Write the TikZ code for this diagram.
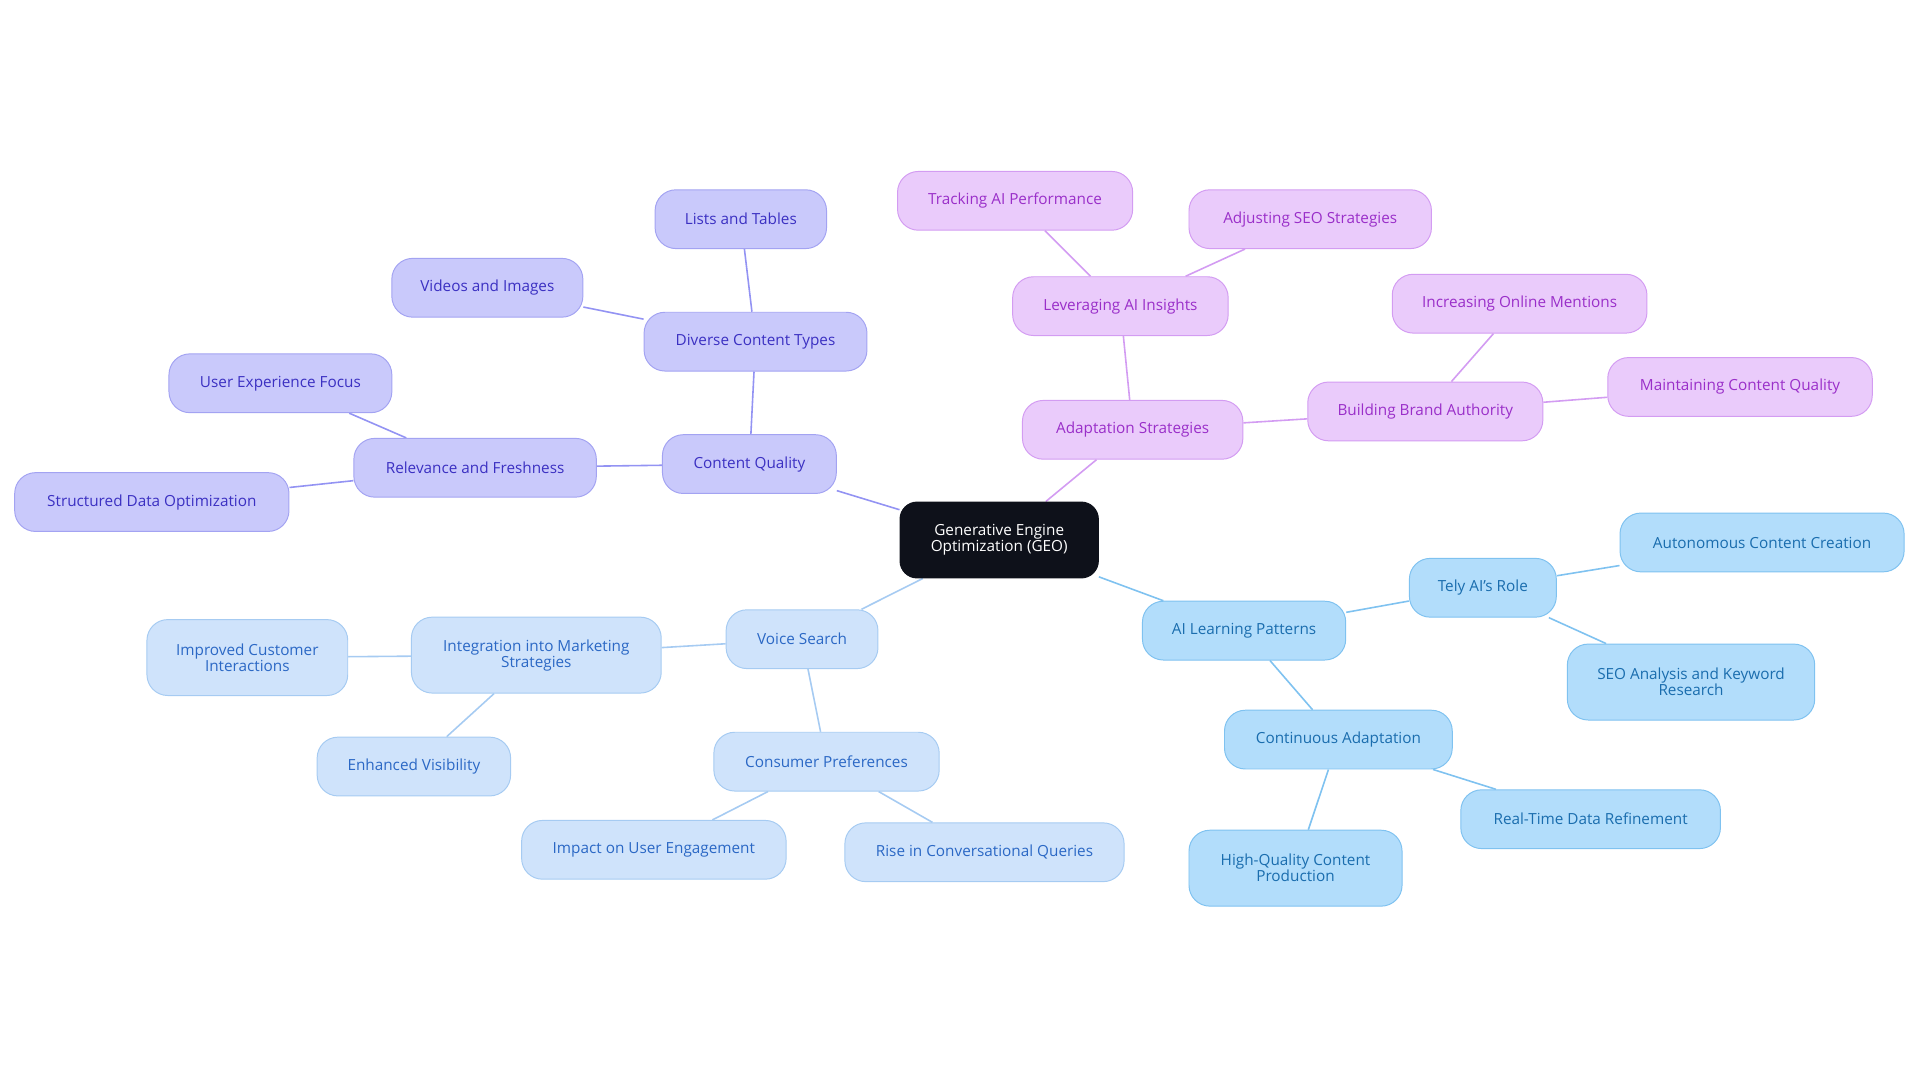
\documentclass[tikz,border=0pt]{standalone}
\usepackage{fontspec}
\setmainfont{Open Sans}
\usetikzlibrary{backgrounds}
\definecolor{pbF}{HTML}{C9C9FB}\definecolor{pbD}{HTML}{A3A3F2}\definecolor{pbT}{HTML}{3B30C2}
\definecolor{pkF}{HTML}{EACBFB}\definecolor{pkD}{HTML}{D39CF2}\definecolor{pkT}{HTML}{9A2FC9}
\definecolor{lbF}{HTML}{CFE3FB}\definecolor{lbD}{HTML}{A6CBF2}\definecolor{lbT}{HTML}{2B68C5}
\definecolor{cbF}{HTML}{B2DDFB}\definecolor{cbD}{HTML}{7FC2F0}\definecolor{cbT}{HTML}{1A6DAE}
\definecolor{ctr}{HTML}{0E111A}
\tikzset{
 base/.style={rounded corners=17pt,align=center,font=\fontsize{12.5}{13}\selectfont,minimum height=48pt,inner sep=2pt,line width=0.8pt},
 pb/.style={base,fill=pbF,draw=pbD,text=pbT},
 pk/.style={base,fill=pkF,draw=pkD,text=pkT},
 lb/.style={base,fill=lbF,draw=lbD,text=lbT},
 cb/.style={base,fill=cbF,draw=cbD,text=cbT},
 tall/.style={minimum height=62pt},
 epb/.style={draw=pbD!90!blue,line width=1.3pt},
 epk/.style={draw=pkD,line width=1.3pt},
 elb/.style={draw=lbD,line width=1.3pt},
 ecb/.style={draw=cbD,line width=1.3pt},
}
\begin{document}
\begin{tikzpicture}[x=1pt,y=-1pt]
\useasboundingbox (0,0) rectangle (1568,884);
\node[base,fill=ctr,draw=ctr,text=white,minimum width=162pt,minimum height=62pt,rounded corners=14pt] (c) at (816,441) {Generative Engine\\Optimization (GEO)};
\node[pb,minimum width=142pt] (cq) at (612,379) {Content Quality};
\node[pb,minimum width=182pt] (dct) at (617,279) {Diverse Content Types};
\node[pb,minimum width=140pt] (lt) at (605,179) {Lists and Tables};
\node[pb,minimum width=156pt] (vi) at (398,235) {Videos and Images};
\node[pb,minimum width=198pt] (rf) at (388,382) {Relevance and Freshness};
\node[pb,minimum width=182pt] (ux) at (229,313) {User Experience Focus};
\node[pb,minimum width=224pt] (sd) at (124,410) {Structured Data Optimization};
\node[pk,minimum width=180pt] (as) at (925,351) {Adaptation Strategies};
\node[pk,minimum width=176pt] (la) at (915,250) {Leveraging AI Insights};
\node[pk,minimum width=192pt] (ta) at (829,164) {Tracking AI Performance};
\node[pk,minimum width=198pt] (ad) at (1070,179) {Adjusting SEO Strategies};
\node[pk,minimum width=192pt] (bb) at (1164,336) {Building Brand Authority};
\node[pk,minimum width=208pt] (io) at (1241,248) {Increasing Online Mentions};
\node[pk,minimum width=216pt] (mc) at (1421,316) {Maintaining Content Quality};
\node[cb,minimum width=166pt] (al) at (1016,515) {AI Learning Patterns};
\node[cb,minimum width=120pt] (ty) at (1211,480) {Tely AI's Role};
\node[cb,minimum width=232pt] (acc) at (1439,443) {Autonomous Content Creation};
\node[cb,tall,minimum width=202pt] (sk) at (1381,557) {SEO Analysis and Keyword\\Research};
\node[cb,minimum width=186pt] (ca) at (1093,604) {Continuous Adaptation};
\node[cb,minimum width=212pt] (rt) at (1299,669) {Real-Time Data Refinement};
\node[cb,tall,minimum width=174pt] (hq) at (1058,709) {High-Quality Content\\Production};
\node[lb,minimum width=124pt] (vs) at (655,522) {Voice Search};
\node[lb,tall,minimum width=204pt] (im) at (438,535) {Integration into Marketing\\Strategies};
\node[lb,tall,minimum width=164pt] (ic) at (202,537) {Improved Customer\\Interactions};
\node[lb,minimum width=158pt] (ev) at (338,626) {Enhanced Visibility};
\node[lb,minimum width=184pt] (cp) at (675,622) {Consumer Preferences};
\node[lb,minimum width=216pt] (iu) at (534,694) {Impact on User Engagement};
\node[lb,minimum width=228pt] (rc) at (804,696) {Rise in Conversational Queries};
\begin{scope}[on background layer]
\draw[epb] (c) -- (cq); \draw[epb] (cq) -- (dct); \draw[epb] (dct) -- (lt); \draw[epb] (dct) -- (vi);
\draw[epb] (cq) -- (rf); \draw[epb] (rf) -- (ux); \draw[epb] (rf) -- (sd);
\draw[epk] (c) -- (as); \draw[epk] (as) -- (la); \draw[epk] (la) -- (ta); \draw[epk] (la) -- (ad);
\draw[epk] (as) -- (bb); \draw[epk] (bb) -- (io); \draw[epk] (bb) -- (mc);
\draw[ecb] (c) -- (al); \draw[ecb] (al) -- (ty); \draw[ecb] (ty) -- (acc); \draw[ecb] (ty) -- (sk);
\draw[ecb] (al) -- (ca); \draw[ecb] (ca) -- (rt); \draw[ecb] (ca) -- (hq);
\draw[elb] (c) -- (vs); \draw[elb] (vs) -- (im); \draw[elb] (im) -- (ic); \draw[elb] (im) -- (ev);
\draw[elb] (vs) -- (cp); \draw[elb] (cp) -- (iu); \draw[elb] (cp) -- (rc);
\end{scope}
\end{tikzpicture}
\end{document}
